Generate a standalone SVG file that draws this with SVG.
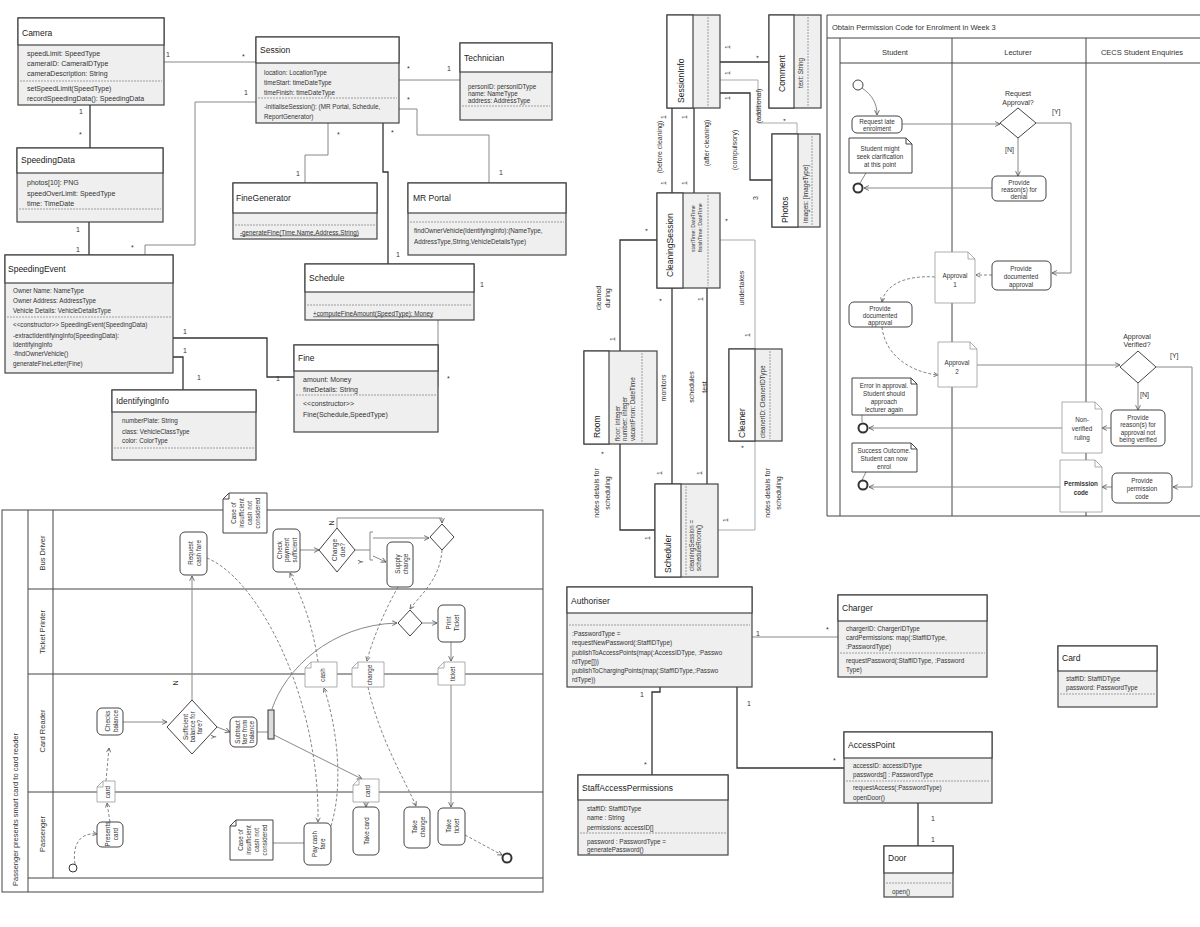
<svg xmlns="http://www.w3.org/2000/svg" width="1200" height="927" viewBox="0 0 1200 927">
<style>
text{font-family:"Liberation Sans",Arial,sans-serif;font-size:7px;fill:#333;dominant-baseline:central}
.h{font-size:8.5px;fill:#222}
.m{text-anchor:middle}
.sm{font-size:6.3px}
.xs{font-size:5.2px}
.lb{font-size:7.5px}
.box{fill:#efefef;stroke:#444;stroke-width:1.2}
.hd{fill:#fff;stroke:#444;stroke-width:1.2}
.dl{stroke:#888;stroke-width:0.8;stroke-dasharray:2 1;fill:none}
.c{fill:none;stroke:#888;stroke-width:1}
.cd{fill:none;stroke:#333;stroke-width:1.3}
.cl{fill:none;stroke:#aaa;stroke-width:1}
.da{fill:none;stroke:#777;stroke-width:0.9;stroke-dasharray:3 2}
.fr{fill:none;stroke:#444;stroke-width:1}
.act{fill:#fff;stroke:#444;stroke-width:1}
.doc{fill:#fff;stroke:#999;stroke-width:0.8}
.u{text-decoration:underline}
.fin{fill:#fff;stroke:#333;stroke-width:2}
</style>
<defs>
<marker id="a" viewBox="0 0 10 10" refX="9" refY="5" markerWidth="6" markerHeight="6" orient="auto-start-reverse"><path d="M1 1 L9 5 L1 9" fill="none" stroke="#555" stroke-width="1.4"/></marker>
</defs>
<rect width="1200" height="927" fill="#fff"/>

<!-- ===== Top-left class diagram connectors ===== -->
<g id="connectors-tl">
<path class="c" d="M164 62 H256"/>
<path class="c" d="M256 102 H195 V245 H145 V255"/>
<path class="cd" d="M90 105 V148"/>
<path class="cd" d="M89 222 V255"/>
<path class="c" d="M399 80 H460"/>
<path class="c" d="M399 109 H417 V135 H489 V183"/>
<path class="c" d="M328 123 V155 H305 V183"/>
<path class="cd" d="M383 123 V172 H388 V264"/>
<path class="c" d="M438 320 V387"/>
<path class="cd" d="M173 338 H267 V377 H294"/>
<path class="cd" d="M173 357 H183 V390"/>
<text x="166" y="54">1</text><text x="242" y="56">*</text>
<text x="244" y="92">1</text><text x="131" y="247">*</text>
<text x="79" y="111">1</text><text x="79" y="134">*</text>
<text x="76" y="229">1</text><text x="76" y="249">1</text>
<text x="407" y="68">*</text><text x="447" y="68">1</text>
<text x="407" y="99">*</text><text x="499" y="172">1</text>
<text x="337" y="134">*</text><text x="296" y="173">1</text>
<text x="391" y="132">*</text><text x="396" y="254">1</text>
<text x="480" y="284">1</text><text x="447" y="378">*</text>
<text x="183" y="331">1</text><text x="276" y="378">1</text>
<text x="183" y="350">1</text><text x="197" y="377">1</text>
</g>

<g id="camera">
<rect class="box" x="18" y="18" width="146" height="87"/>
<rect class="hd" x="18" y="18" width="146" height="27"/>
<text class="h" x="22" y="33">Camera</text>
<text x="27" y="53">speedLimit: SpeedType</text>
<text x="27" y="63">cameraID: CameraIDType</text>
<text x="27" y="73">cameraDescription: String</text>
<line class="dl" x1="20" y1="81" x2="162" y2="81"/>
<text x="27" y="88">setSpeedLimit(SpeedType)</text>
<text x="27" y="98">recordSpeedingData(): SpeedingData</text>
</g>

<g id="session">
<rect class="box" x="256" y="37" width="143" height="86"/>
<rect class="hd" x="256" y="37" width="143" height="26"/>
<text class="h" x="260" y="50">Session</text>
<text class="sm" x="264" y="72">location: LocationType</text>
<text class="sm" x="264" y="82">timeStart: timeDateType</text>
<text class="sm" x="264" y="92">timeFinish: timeDateType</text>
<line class="dl" x1="258" y1="98" x2="397" y2="98"/>
<text class="sm" x="264" y="106">-initialiseSession(): (MR Portal, Schedule,</text>
<text class="sm" x="264" y="116">ReportGenerator)</text>
</g>

<g id="technician">
<rect class="box" x="460" y="43" width="92" height="77"/>
<rect class="hd" x="460" y="43" width="92" height="29"/>
<text class="h" x="464" y="58">Technician</text>
<text class="sm" x="468" y="86">personID: personIDType</text>
<text class="sm" x="468" y="93">name: NameType</text>
<text class="sm" x="468" y="100">address: AddressType</text>
<line class="dl" x1="462" y1="106" x2="550" y2="106"/>
</g>

<g id="speedingdata">
<rect class="box" x="17" y="148" width="146" height="74"/>
<rect class="hd" x="17" y="148" width="146" height="25"/>
<text class="h" x="21" y="160">SpeedingData</text>
<text x="27" y="182">photos[10]: PNG</text>
<text x="27" y="193">speedOverLimit: SpeedType</text>
<text x="27" y="203">time: TimeDate</text>
<line class="dl" x1="19" y1="209" x2="161" y2="209"/>
</g>

<g id="finegenerator">
<rect class="box" x="233" y="183" width="144" height="56"/>
<rect class="hd" x="233" y="183" width="144" height="30"/>
<text class="h" x="236" y="198">FineGenerator</text>
<line class="dl" x1="235" y1="225" x2="375" y2="225"/>
<text class="sm u" x="240" y="232">-generateFine(Time,Name,Address,String)</text>
</g>

<g id="mrportal">
<rect class="box" x="408" y="183" width="158" height="72"/>
<rect class="hd" x="408" y="183" width="158" height="30"/>
<text class="h" x="413" y="198">MR Portal</text>
<line class="dl" x1="410" y1="222" x2="564" y2="222"/>
<text class="sm" x="414" y="230">findOwnerVehicle(IdentifyingInfo):(NameType,</text>
<text class="sm" x="414" y="241">AddressType,String,VehicleDetailsType)</text>
</g>

<g id="schedule">
<rect class="box" x="305" y="264" width="169" height="56"/>
<rect class="hd" x="305" y="264" width="169" height="28"/>
<text class="h" x="309" y="278">Schedule</text>
<line class="dl" x1="307" y1="305" x2="472" y2="305"/>
<text class="sm u" x="313" y="313">+computeFineAmount(SpeedType): Money</text>
</g>

<g id="fine">
<rect class="box" x="294" y="345" width="144" height="87"/>
<rect class="hd" x="294" y="345" width="144" height="26"/>
<text class="h" x="298" y="358">Fine</text>
<text x="303" y="379">amount: Money</text>
<text x="303" y="389">fineDetails: String</text>
<line class="dl" x1="296" y1="395" x2="436" y2="395"/>
<text x="303" y="403">&lt;&lt;constructor&gt;&gt;</text>
<text x="303" y="414">Fine(Schedule,SpeedType)</text>
</g>

<g id="speedingevent">
<rect class="box" x="5" y="255" width="168" height="118"/>
<rect class="hd" x="5" y="255" width="168" height="28"/>
<text class="h" x="8" y="269">SpeedingEvent</text>
<text class="sm" x="13" y="290">Owner Name: NameType</text>
<text class="sm" x="13" y="300">Owner Address: AddressType</text>
<text class="sm" x="13" y="310">Vehicle Details: VehicleDetailsType</text>
<line class="dl" x1="7" y1="317" x2="171" y2="317"/>
<text class="sm" x="13" y="324">&lt;&lt;constructor&gt;&gt; SpeedingEvent(SpeedingData)</text>
<text class="sm" x="13" y="335">-extractIdentifyingInfo(SpeedingData):</text>
<text class="sm" x="13" y="344">IdentifyingInfo</text>
<text class="sm" x="13" y="353">-findOwnerVehicle()</text>
<text class="sm" x="13" y="363">generateFineLetter(Fine)</text>
</g>

<g id="identifyinginfo">
<rect class="box" x="112" y="390" width="144" height="70"/>
<rect class="hd" x="112" y="390" width="144" height="22"/>
<text class="h" x="116" y="401">IdentifyingInfo</text>
<text class="sm" x="122" y="420">numberPlate: String</text>
<text class="sm" x="122" y="431">class: VehicleClassType</text>
<text class="sm" x="122" y="440">color: ColorType</text>
<line class="dl" x1="114" y1="448" x2="254" y2="448"/>
</g>

<!-- ===== Middle rotated class diagram ===== -->
<g id="connectors-mid">
<path class="cd" d="M720 62 H769"/>
<path class="cl" d="M720 80 H758 V123 H797 V134"/>
<path class="cd" d="M720 93 H750 V180 H772"/>
<path class="cd" d="M672 108 V193"/>
<path class="cd" d="M694 108 V193"/>
<path class="cd" d="M657 240 H620 V351"/>
<path class="cl" d="M720 240 H755 V349"/>
<path class="cd" d="M672 288 V484"/>
<path class="cd" d="M707 288 V484"/>
<path class="cd" d="M620 444 V530 H655"/>
<path class="cl" d="M755 441 V530 H718"/>
<g class="lb">
<text transform="translate(727 47) rotate(-90)" class="m">1</text>
<text transform="translate(758 57) rotate(-90)" class="m">*</text>
<text transform="translate(727 73) rotate(-90)" class="m">1</text>
<text transform="translate(785 120) rotate(-90)" class="m">*</text>
<text transform="translate(727 98) rotate(-90)" class="m">1</text>
<text transform="translate(755 198) rotate(-90)" class="m">3</text>
<text transform="translate(663 117) rotate(-90)" class="m">1</text>
<text transform="translate(663 183) rotate(-90)" class="m">1</text>
<text transform="translate(684 117) rotate(-90)" class="m">1</text>
<text transform="translate(684 183) rotate(-90)" class="m">1</text>
<text transform="translate(647 230) rotate(-90)" class="m">*</text>
<text transform="translate(612 339) rotate(-90)" class="m">1</text>
<text transform="translate(727 220) rotate(-90)" class="m">*</text>
<text transform="translate(747 335) rotate(-90)" class="m">1</text>
<text transform="translate(661 300) rotate(-90)" class="m">*</text>
<text transform="translate(659 473) rotate(-90)" class="m">1</text>
<text transform="translate(700 299) rotate(-90)" class="m">1</text>
<text transform="translate(699 473) rotate(-90)" class="m">1</text>
<text transform="translate(603 453) rotate(-90)" class="m">*</text>
<text transform="translate(647 538) rotate(-90)" class="m">1</text>
<text transform="translate(743 447) rotate(-90)" class="m">*</text>
<text transform="translate(725 520) rotate(-90)" class="m">1</text>
<text transform="translate(659 147) rotate(-90)" class="m">(before cleaning)</text>
<text transform="translate(706 143) rotate(-90)" class="m">(after cleaning)</text>
<text transform="translate(734 150) rotate(-90)" class="m">(compulsory)</text>
<text transform="translate(758 106) rotate(-90)" class="m">(additional)</text>
<text transform="translate(598 298) rotate(-90)" class="m">cleaned</text>
<text transform="translate(607 298) rotate(-90)" class="m">during</text>
<text transform="translate(741 288) rotate(-90)" class="m">undertakes</text>
<text transform="translate(663 388) rotate(-90)" class="m">monitors</text>
<text transform="translate(691 387) rotate(-90)" class="m">schedules</text>
<text transform="translate(704 387) rotate(-90)" class="m">test</text>
<text transform="translate(596 493) rotate(-90)" class="m">notes details for</text>
<text transform="translate(607 493) rotate(-90)" class="m">scheduling</text>
<text transform="translate(767 493) rotate(-90)" class="m">notes details for</text>
<text transform="translate(778 493) rotate(-90)" class="m">scheduling</text>
</g>
</g>

<g id="sessioninfo">
<rect class="box" x="667" y="15" width="53" height="93"/>
<rect class="hd" x="667" y="15" width="26" height="93"/>
<text class="h" transform="translate(681 103) rotate(-90)">SessionInfo</text>
<line class="dl" x1="708" y1="17" x2="708" y2="106"/>
</g>

<g id="comment">
<rect class="box" x="769" y="15" width="52" height="93"/>
<rect class="hd" x="769" y="15" width="25" height="93"/>
<text class="h" transform="translate(782 92) rotate(-90)">Comment</text>
<text class="sm" transform="translate(800 88) rotate(-90)">text: String</text>
<line class="dl" x1="808" y1="17" x2="808" y2="106"/>
</g>

<g id="photos">
<rect class="box" x="772" y="134" width="48" height="93"/>
<rect class="hd" x="772" y="134" width="26" height="93"/>
<text class="h" transform="translate(785 223) rotate(-90)">Photos</text>
<text class="sm" transform="translate(805 223) rotate(-90)">images: [imageType]</text>
<line class="dl" x1="812" y1="136" x2="812" y2="225"/>
</g>

<g id="cleaningsession">
<rect class="box" x="657" y="193" width="63" height="95"/>
<rect class="hd" x="657" y="193" width="26" height="95"/>
<text class="h" transform="translate(670 277) rotate(-90)">CleaningSession</text>
<text class="xs" transform="translate(693 252) rotate(-90)">startTime: DateTime</text>
<text class="xs" transform="translate(700 252) rotate(-90)">finishTime: DateTime</text>
<line class="dl" x1="708" y1="195" x2="708" y2="286"/>
</g>

<g id="room">
<rect class="box" x="584" y="351" width="73" height="93"/>
<rect class="hd" x="584" y="351" width="25" height="93"/>
<text class="h" transform="translate(597 438) rotate(-90)">Room</text>
<text class="sm" transform="translate(617 441) rotate(-90)">floor: integer</text>
<text class="sm" transform="translate(624 441) rotate(-90)">number: integer</text>
<text class="sm" transform="translate(632 441) rotate(-90)">vacantFrom: DateTime</text>
<line class="dl" x1="642" y1="353" x2="642" y2="442"/>
</g>

<g id="cleaner">
<rect class="box" x="729" y="349" width="53" height="92"/>
<rect class="hd" x="729" y="349" width="26" height="92"/>
<text class="h" transform="translate(742 438) rotate(-90)">Cleaner</text>
<text class="sm" transform="translate(762 438) rotate(-90)">cleanerID: CleanerIDType</text>
<line class="dl" x1="770" y1="351" x2="770" y2="439"/>
</g>

<g id="scheduler">
<rect class="box" x="655" y="484" width="63" height="93"/>
<rect class="hd" x="655" y="484" width="26" height="93"/>
<text class="h" transform="translate(668 573) rotate(-90)">Scheduler</text>
<line class="dl" x1="686" y1="486" x2="686" y2="575"/>
<text class="sm" transform="translate(691 571) rotate(-90)">cleaningSession =</text>
<text class="sm" transform="translate(698 571) rotate(-90)">scheduleRoom()</text>
</g>

<!-- ===== Right activity diagram ===== -->
<g id="activity-frame">
<path class="fr" d="M827 15 H1200 M827 15 V516 H1200 M827 38 H1200 M840 38 V516 M840 63 H1200 M952 38 V516 M1086 38 V516"/>
<text x="832" y="27" class="lb">Obtain Permission Code for Enrolment in Week 3</text>
<text x="895" y="52" class="m lb">Student</text>
<text x="1018" y="52" class="m lb">Lecturer</text>
<text x="1142" y="52" class="m lb">CECS Student Enquiries</text>
</g>
<g id="activity-flows">
<path class="c" d="M862 88 C872 95 877 103 877 115" marker-end="url(#a)"/>
<path class="c" d="M902 124 H1000" marker-end="url(#a)"/>
<path class="c" d="M1036 123 H1071 V273 H1052" marker-end="url(#a)"/>
<path class="c" d="M1018 138 V176" marker-end="url(#a)"/>
<path class="c" d="M992 188 H864" marker-end="url(#a)"/>
<path class="c" d="M866 173 L860 183"/>
<path class="da" d="M992 275 H976" marker-end="url(#a)"/>
<path class="da" d="M935 277 C905 275 885 285 882 302" marker-end="url(#a)"/>
<path class="da" d="M882 327 C885 355 910 372 938 375" marker-end="url(#a)"/>
<path class="c" d="M977 365 H1120" marker-end="url(#a)"/>
<path class="c" d="M1156 367 H1192 V487 H1173" marker-end="url(#a)"/>
<path class="c" d="M1138 383 V410" marker-end="url(#a)"/>
<path class="c" d="M1111 428 H1102" marker-end="url(#a)"/>
<path class="c" d="M1062 428 H869" marker-end="url(#a)"/>
<path class="c" d="M862 415 L862 422"/>
<path class="c" d="M1112 487 H1102" marker-end="url(#a)"/>
<path class="c" d="M1060 487 H869" marker-end="url(#a)"/>
<path class="c" d="M866 472 L862 480"/>
<text x="1052" y="111">[Y]</text>
<text x="1005" y="149">[N]</text>
<text x="1170" y="355">[Y]</text>
<text x="1140" y="394">[N]</text>
</g>
<g id="act-initial"><circle cx="858" cy="85" r="5" fill="#fff" stroke="#444"/></g>
<g id="act-request"><rect class="act" x="852" y="116" width="50" height="17" rx="5"/><text class="m sm" x="877" y="121">Request late</text><text class="m sm" x="877" y="128.5">enrolment</text></g>
<g id="act-decision1"><path class="act" d="M1018 108 L1036 123 L1018 138 L1000 123 Z"/><text class="m" x="1018" y="93">Request</text><text class="m" x="1018" y="102">Approval?</text></g>
<g id="act-note1"><path class="act" d="M849 138 H906 L912 144 V173 H849 Z M906 138 V144 H912"/><text class="m sm" x="880" y="148">Student might</text><text class="m sm" x="880" y="156">seek clarification</text><text class="m sm" x="880" y="164">at this point</text></g>
<g id="act-final1"><circle class="fin" cx="858" cy="188" r="4.5"/></g>
<g id="act-denial"><rect class="act" x="992" y="176" width="54" height="25" rx="5"/><text class="m sm" x="1019" y="182">Provide</text><text class="m sm" x="1019" y="189">reason(s) for</text><text class="m sm" x="1019" y="196">denial</text></g>
<g id="act-provide-lect"><rect class="act" x="992" y="261" width="59" height="29" rx="5"/><text class="m sm" x="1021" y="268">Provide</text><text class="m sm" x="1021" y="276">documented</text><text class="m sm" x="1021" y="284">approval</text></g>
<g id="act-approval1"><path class="doc" d="M935 252 H968 L975 259 V303 H935 Z M968 252 V259 H975"/><text class="m sm" x="955" y="275">Approval</text><text class="m sm" x="955" y="284">1</text></g>
<g id="act-provide-stud"><rect class="act" x="849" y="302" width="63" height="25" rx="5"/><text class="m sm" x="880" y="308">Provide</text><text class="m sm" x="880" y="315">documented</text><text class="m sm" x="880" y="322">approval</text></g>
<g id="act-approval2"><path class="doc" d="M938 342 H970 L977 349 V387 H938 Z M970 342 V349 H977"/><text class="m sm" x="957" y="362">Approval</text><text class="m sm" x="957" y="371">2</text></g>
<g id="act-decision2"><path class="act" d="M1138 351 L1156 367 L1138 383 L1120 367 Z"/><text class="m" x="1137" y="336">Approval</text><text class="m" x="1137" y="344">Verified?</text></g>
<g id="act-notverified"><rect class="act" x="1111" y="410" width="54" height="36" rx="5"/><text class="m sm" x="1138" y="417">Provide</text><text class="m sm" x="1138" y="424.5">reason(s) for</text><text class="m sm" x="1138" y="432">approval not</text><text class="m sm" x="1138" y="439.5">being verified</text></g>
<g id="act-nonverified-doc"><path class="doc" d="M1062 402 H1095 L1102 409 V453 H1062 Z M1095 402 V409 H1102"/><text class="m sm" x="1082" y="419">Non-</text><text class="m sm" x="1082" y="428">verified</text><text class="m sm" x="1082" y="437">ruling</text></g>
<g id="act-note2"><path class="act" d="M852 378 H911 L917 384 V415 H852 Z M911 378 V384 H917"/><text class="m sm" x="884" y="385">Error in approval.</text><text class="m sm" x="884" y="393">Student should</text><text class="m sm" x="884" y="401">approach</text><text class="m sm" x="884" y="409">lecturer again</text></g>
<g id="act-final2"><circle class="fin" cx="863" cy="428" r="4.5"/></g>
<g id="act-permission-doc"><path class="doc" d="M1060 460 H1095 L1102 467 V512 H1060 Z M1095 460 V467 H1102"/><text class="m sm" x="1081" y="483" font-weight="bold">Permission</text><text class="m sm" x="1081" y="492" font-weight="bold">code</text></g>
<g id="act-provide-perm"><rect class="act" x="1112" y="473" width="60" height="30" rx="5"/><text class="m sm" x="1142" y="480">Provide</text><text class="m sm" x="1142" y="488">permission</text><text class="m sm" x="1142" y="496">code</text></g>
<g id="act-note3"><path class="act" d="M852 443 H911 L917 449 V472 H852 Z M911 443 V449 H917"/><text class="m sm" x="884" y="450">Success Outcome.</text><text class="m sm" x="884" y="458">Student can now</text><text class="m sm" x="884" y="466">enrol</text></g>
<g id="act-final3"><circle class="fin" cx="863" cy="485" r="4.5"/></g>

<!-- ===== Bottom-left swimlane activity ===== -->
<g id="swim-frame">
<rect class="fr" x="2" y="510" width="541" height="382"/>
<path class="fr" d="M28 510 V892 M53 510 V878 M28 589 H543 M28 674 H543 M28 792 H543 M28 878 H543"/>
<text class="lb" transform="translate(15 886) rotate(-90)">Passenger presents smart card to card reader</text>
<text class="lb m" transform="translate(42 553) rotate(-90)">Bus Driver</text>
<text class="lb m" transform="translate(42 632) rotate(-90)">Ticket Printer</text>
<text class="lb m" transform="translate(42 731) rotate(-90)">Card Reader</text>
<text class="lb m" transform="translate(42 834) rotate(-90)">Passenger</text>
</g>
<g id="swim-flows">
<path class="da" d="M75 864 C72 845 80 832 97 834" marker-end="url(#a)"/>
<path class="da" d="M110 822 L107 803" marker-end="url(#a)"/>
<path class="da" d="M106 781 L109 748" marker-end="url(#a)"/>
<path class="c" d="M123 722 H167" marker-end="url(#a)"/>
<path class="c" d="M192 700 V576" marker-end="url(#a)"/>
<path class="c" d="M217 727 L230 732" marker-end="url(#a)"/>
<path class="c" d="M257 732 H268"/>
<path class="c" d="M274 735 L362 779" marker-end="url(#a)"/>
<path class="c" d="M366 802 V807" marker-end="url(#a)"/>
<path class="c" d="M272 709 C285 670 330 625 397 623" marker-end="url(#a)"/>
<path class="c" d="M300 550 H319" marker-end="url(#a)"/>
<path class="c" d="M337 528 V518 H442 V523" marker-end="url(#a)"/>
<path class="c" d="M355 550 H370 M373 532 H370 V560 H373"/>
<path class="c" d="M373 538 H429" marker-end="url(#a)"/>
<path class="c" d="M373 556 L386 562" marker-end="url(#a)"/>
<path class="da" d="M442 550 C440 580 420 595 410 609" marker-end="url(#a)"/>
<path class="c" d="M422 623 H437" marker-end="url(#a)"/>
<path class="c" d="M451 642 V661" marker-end="url(#a)"/>
<path class="c" d="M451 685 V807" marker-end="url(#a)"/>
<path class="da" d="M465 835 L502 855" marker-end="url(#a)"/>
<path class="da" d="M207 558 C260 580 320 700 318 822" marker-end="url(#a)"/>
<path class="da" d="M331 826 C345 780 335 720 324 688" marker-end="url(#a)"/>
<path class="da" d="M318 662 C312 620 300 595 290 573" marker-end="url(#a)"/>
<path class="da" d="M398 587 C385 610 372 640 367 661" marker-end="url(#a)"/>
<path class="da" d="M368 687 C380 740 405 780 416 806" marker-end="url(#a)"/>
<path class="c" d="M273 843 H304"/>
<text transform="translate(175 683) rotate(-90)" class="m">N</text>
<text transform="translate(213 737) rotate(-90)" class="m">Y</text>
<text transform="translate(331 523) rotate(-90)" class="m">N</text>
<text transform="translate(360 562) rotate(-90)" class="m">Y</text>
</g>
<g id="sw-initial"><circle cx="73" cy="868" r="4" fill="#fff" stroke="#333"/></g>
<g id="sw-presents"><rect class="act" x="97" y="822" width="26" height="25" rx="5"/><text class="m sm" transform="translate(107 834) rotate(-90)">Presents</text><text class="m sm" transform="translate(115 834) rotate(-90)">card</text></g>
<g id="sw-card1"><path class="doc" d="M103 781 H115 V802 H97 V787 Z M103 781 V787 H97"/><text class="m sm" transform="translate(107 792) rotate(-90)">card</text></g>
<g id="sw-checks"><rect class="act" x="97" y="708" width="26" height="27" rx="5"/><text class="m sm" transform="translate(107 721) rotate(-90)">Checks</text><text class="m sm" transform="translate(115 721) rotate(-90)">balance</text></g>
<g id="sw-sufficient"><path class="act" d="M192 700 L217 727 L192 754 L167 727 Z"/><text class="m sm" transform="translate(185 727) rotate(-90)">Sufficient</text><text class="m sm" transform="translate(192 727) rotate(-90)">balance for</text><text class="m sm" transform="translate(199 727) rotate(-90)">fare?</text></g>
<g id="sw-request"><rect class="act" x="180" y="532" width="27" height="43" rx="5"/><text class="m sm" transform="translate(190 553) rotate(-90)">Request</text><text class="m sm" transform="translate(198 553) rotate(-90)">cash fare</text></g>
<g id="sw-subtract"><rect class="act" x="230" y="717" width="27" height="30" rx="5"/><text class="m sm" transform="translate(237 732) rotate(-90)">Subtract</text><text class="m sm" transform="translate(244 732) rotate(-90)">fare from</text><text class="m sm" transform="translate(251 732) rotate(-90)">balance</text></g>
<g id="sw-fork"><rect x="268" y="710" width="6" height="29" fill="#ddd" stroke="#333"/></g>
<g id="sw-card2"><path class="doc" d="M359 779 H379 V802 H353 V785 Z M359 779 V785 H353"/><text class="m sm" transform="translate(367 791) rotate(-90)">card</text></g>
<g id="sw-takecard"><rect class="act" x="353" y="807" width="26" height="48" rx="5"/><text class="m sm" transform="translate(366 831) rotate(-90)">Take card</text></g>
<g id="sw-note1"><path class="act" d="M229 493 H267 V533 H223 V499 Z M229 493 V499 H223"/><text class="m sm" transform="translate(233 513) rotate(-90)">Case of</text><text class="m sm" transform="translate(241 513) rotate(-90)">insufficient</text><text class="m sm" transform="translate(249 513) rotate(-90)">cash not</text><text class="m sm" transform="translate(257 513) rotate(-90)">considered</text></g>
<g id="sw-checkpay"><rect class="act" x="273" y="529" width="27" height="43" rx="5"/><text class="m sm" transform="translate(279 550) rotate(-90)">Check</text><text class="m sm" transform="translate(286 550) rotate(-90)">payment</text><text class="m sm" transform="translate(294 550) rotate(-90)">sufficient</text></g>
<g id="sw-changedue"><path class="act" d="M337 528 L355 550 L337 572 L319 550 Z"/><text class="m sm" transform="translate(334 550) rotate(-90)">Change</text><text class="m sm" transform="translate(342 550) rotate(-90)">due?</text></g>
<g id="sw-merge1"><path class="act" d="M442 524 L454 537 L442 550 L430 537 Z"/></g>
<g id="sw-supply"><rect class="act" x="387" y="542" width="26" height="45" rx="5"/><text class="m sm" transform="translate(397 564) rotate(-90)">Supply</text><text class="m sm" transform="translate(405 564) rotate(-90)">change</text></g>
<g id="sw-merge2"><path class="act" d="M410 610 L422 623 L410 636 L398 623 Z"/></g>
<g id="sw-print"><rect class="act" x="438" y="605" width="27" height="37" rx="5"/><text class="m sm" transform="translate(448 623) rotate(-90)">Print</text><text class="m sm" transform="translate(456 623) rotate(-90)">Ticket</text></g>
<g id="sw-ticketdoc"><path class="doc" d="M444 662 H465 V685 H438 V668 Z M444 662 V668 H438"/><text class="m sm" transform="translate(452 674) rotate(-90)">ticket</text></g>
<g id="sw-taketicket"><rect class="act" x="438" y="808" width="27" height="37" rx="5"/><text class="m sm" transform="translate(448 826) rotate(-90)">Take</text><text class="m sm" transform="translate(456 826) rotate(-90)">ticket</text></g>
<g id="sw-final"><circle class="fin" cx="507" cy="858" r="4.5"/></g>
<g id="sw-cash"><path class="doc" d="M311 662 H337 V687 H305 V668 Z M311 662 V668 H305"/><text class="m sm" transform="translate(322 675) rotate(-90)">cash</text></g>
<g id="sw-change"><path class="doc" d="M358 662 H384 V687 H352 V668 Z M358 662 V668 H352"/><text class="m sm" transform="translate(369 675) rotate(-90)">change</text></g>
<g id="sw-paycash"><rect class="act" x="304" y="823" width="27" height="42" rx="5"/><text class="m sm" transform="translate(314 844) rotate(-90)">Pay cash</text><text class="m sm" transform="translate(322 844) rotate(-90)">fare</text></g>
<g id="sw-note2"><path class="act" d="M236 820 H273 V860 H230 V826 Z M236 820 V826 H230"/><text class="m sm" transform="translate(240 840) rotate(-90)">Case of</text><text class="m sm" transform="translate(248 840) rotate(-90)">insufficient</text><text class="m sm" transform="translate(256 840) rotate(-90)">cash not</text><text class="m sm" transform="translate(264 840) rotate(-90)">considered</text></g>
<g id="sw-takechange"><rect class="act" x="404" y="807" width="26" height="41" rx="5"/><text class="m sm" transform="translate(414 827) rotate(-90)">Take</text><text class="m sm" transform="translate(422 827) rotate(-90)">change</text></g>

<!-- ===== Bottom-middle class diagram ===== -->
<g id="connectors-bm">
<path class="c" d="M752 637 H838"/>
<path class="cd" d="M737 687 V768 H844"/>
<path class="cd" d="M652 775 V692 H660 V687"/>
<path class="cd" d="M918 803 V846"/>
<text x="756" y="633">1</text><text x="826" y="629">*</text>
<text x="747" y="703" fill="#999">1</text><text x="833" y="760">*</text>
<text x="640" y="694">1</text><text x="644" y="764">*</text>
<text x="931" y="818">1</text><text x="931" y="839">1</text>
</g>

<g id="authoriser">
<rect class="box" x="567" y="587" width="185" height="100"/>
<rect class="hd" x="567" y="587" width="185" height="26"/>
<text class="h" x="571" y="601">Authoriser</text>
<line class="dl" x1="569" y1="625" x2="750" y2="625"/>
<text class="sm" x="572" y="633">:PasswordType =</text>
<text class="sm" x="572" y="642">requestNewPassword(:StaffIDType)</text>
<text class="sm" x="572" y="652">publishToAccessPoints(map(:AccessIDType, :Passwo</text>
<text class="sm" x="572" y="661">rdType[]))</text>
<text class="sm" x="572" y="670">publishToChargingPoints(map(:StaffIDType,:Passwo</text>
<text class="sm" x="572" y="679">rdType))</text>
</g>

<g id="charger">
<rect class="box" x="838" y="595" width="149" height="82"/>
<rect class="hd" x="838" y="595" width="149" height="26"/>
<text class="h" x="842" y="608">Charger</text>
<text class="sm" x="846" y="628">chargerID: ChargerIDType</text>
<text class="sm" x="846" y="637">cardPermissions: map(:StaffIDType,</text>
<text class="sm" x="846" y="646">:PasswordType)</text>
<line class="dl" x1="840" y1="653" x2="985" y2="653"/>
<text class="sm" x="846" y="660">requestPassword(:StaffIDType, :Password</text>
<text class="sm" x="846" y="669">Type)</text>
</g>

<g id="card">
<rect class="box" x="1058" y="646" width="99" height="61"/>
<rect class="hd" x="1058" y="646" width="99" height="25"/>
<text class="h" x="1062" y="658">Card</text>
<text class="sm" x="1066" y="678">staffID: StaffIDType</text>
<text class="sm" x="1066" y="687">password: PasswordType</text>
<line class="dl" x1="1060" y1="694" x2="1155" y2="694"/>
</g>

<g id="accesspoint">
<rect class="box" x="844" y="732" width="148" height="71"/>
<rect class="hd" x="844" y="732" width="148" height="26"/>
<text class="h" x="848" y="745">AccessPoint</text>
<text class="sm" x="853" y="765">accessID: accessIDType</text>
<text class="sm" x="853" y="774">passwords[] : PasswordType</text>
<line class="dl" x1="846" y1="781" x2="990" y2="781"/>
<text class="sm" x="853" y="787">requestAccess(:PasswordType)</text>
<text class="sm" x="853" y="797">openDoor()</text>
</g>

<g id="door">
<rect class="box" x="884" y="846" width="69" height="51"/>
<rect class="hd" x="884" y="846" width="69" height="27"/>
<text class="h" x="888" y="858">Door</text>
<line class="dl" x1="886" y1="883" x2="951" y2="883"/>
<text class="sm" x="892" y="891">open()</text>
</g>

<g id="staffaccesspermissions">
<rect class="box" x="578" y="775" width="150" height="80"/>
<rect class="hd" x="578" y="775" width="150" height="25"/>
<text class="h" x="582" y="788">StaffAccessPermissions</text>
<text class="sm" x="587" y="808">staffID: StaffIDType</text>
<text class="sm" x="587" y="817">name : String</text>
<text class="sm" x="587" y="827">permissions: accessID[]</text>
<line class="dl" x1="580" y1="833" x2="726" y2="833"/>
<text class="sm" x="587" y="841">password : PasswordType =</text>
<text class="sm" x="587" y="849">generatePassword()</text>
</g>
</svg>
